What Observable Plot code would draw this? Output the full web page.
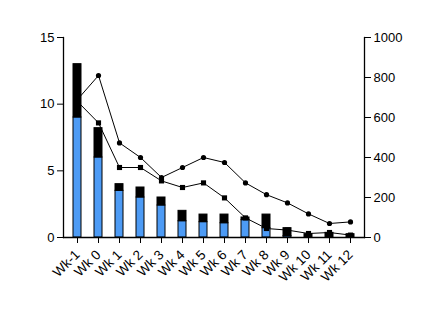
<!DOCTYPE html>
<html>
<head>
<meta charset="utf-8">
<script src="https://cdn.jsdelivr.net/npm/d3@7"></script>
<script src="https://cdn.jsdelivr.net/npm/@observablehq/plot@0.6"></script>
<style>
  html, body { margin: 0; padding: 0; background: #fff; }
</style>
</head>
<body>
<div id="chart"></div>
<script>
const weeks = ["Wk-1","Wk 0","Wk 1","Wk 2","Wk 3","Wk 4","Wk 5","Wk 6","Wk 7","Wk 8","Wk 9","Wk 10","Wk 11","Wk 12"];
const blueSeg  = [9, 6, 3.5, 3, 2.4, 1.22, 1.15, 1.07, 1.3, 0.7, 0.1, 0, 0, 0];
const blackSeg = [4, 2.2, 0.5, 0.75, 0.6, 0.78, 0.57, 0.65, 0.2, 1.02, 0.6, 0.25, 0.35, 0.25];
const circleLine = [690, 810, 473, 400, 300, 350, 400, 375, 273, 214, 173, 118, 70, 78];
const squareLine = [680, 573, 350, 350, 283, 250, 273, 198, 98, 45, 37, 20, 25, 12];
const leftTicks = [0, 5, 10, 15];
const rightTicks = [0, 200, 400, 600, 800, 1000];

const leftMax = 15, rightMax = 1000;
const toLeft = v => v * leftMax / rightMax;

const bars = [];
weeks.forEach((w, i) => {
  bars.push({week: w, part: "lower", value: blueSeg[i]});
  bars.push({week: w, part: "upper", value: blackSeg[i]});
});
const lineC = weeks.map((w, i) => ({week: w, v: circleLine[i]}));
const lineS = weeks.map((w, i) => ({week: w, v: squareLine[i]}));

const chart = Plot.plot({
  width: 436,
  height: 335,
  marginLeft: 63,
  marginRight: 72,
  marginTop: 37,
  marginBottom: 98,
  style: {fontFamily: "'Liberation Sans', Arial, sans-serif", fontSize: "13px", color: "#000", background: "#fff"},
  x: {type: "band", domain: weeks, paddingInner: 0.6, paddingOuter: 0.3, label: null},
  y: {domain: [0, leftMax], label: null},
  color: {domain: ["lower", "upper"], range: ["#4d9bf5", "#000000"]},
  marks: [
    Plot.barY(bars, {x: "week", y: "value", fill: "part", stroke: "#000", strokeWidth: 1, order: ["lower", "upper"]}),
    Plot.line(lineC, {x: "week", y: d => toLeft(d.v), stroke: "#000", strokeWidth: 1}),
    Plot.line(lineS, {x: "week", y: d => toLeft(d.v), stroke: "#000", strokeWidth: 1}),
    Plot.dot(lineC, {x: "week", y: d => toLeft(d.v), r: 2.6, fill: "#000", stroke: "none", symbol: "circle"}),
    Plot.dot(lineS, {x: "week", y: d => toLeft(d.v), r: 2.9, fill: "#000", stroke: "none", symbol: "square"}),
    Plot.frame({anchor: "left", stroke: "#000", strokeWidth: 1.3}),
    Plot.frame({anchor: "right", stroke: "#000", strokeWidth: 1.3}),
    Plot.frame({anchor: "bottom", stroke: "#000", strokeWidth: 1.3}),
    Plot.axisY(leftTicks, {anchor: "left", tickSize: 6, tickPadding: 3, label: null, stroke: "#000", fill: "#000"}),
    Plot.axisY(rightTicks, {anchor: "right", y: d => toLeft(d), text: d => String(d), tickSize: 6, tickPadding: 3, label: null, stroke: "#000", fill: "#000"}),
    Plot.axisX({anchor: "bottom", tickSize: 6, tickPadding: 9, tickRotate: -45, label: null, stroke: "#000", fill: "#000", fontSize: 13.5})
  ]
});
document.getElementById("chart").appendChild(chart);
</script>
</body>
</html>
